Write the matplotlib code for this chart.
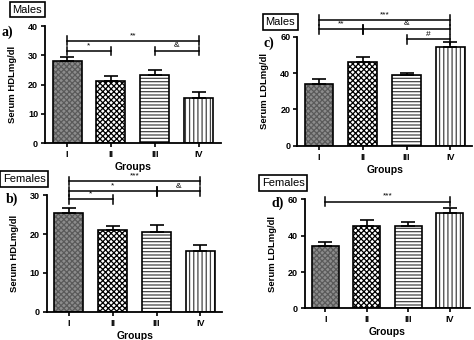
import matplotlib
matplotlib.use("Agg")
import matplotlib.pyplot as plt

plt.rcParams['font.family'] = ['Liberation Sans', 'DejaVu Sans']
plt.rcParams['hatch.linewidth'] = 0.9

groups = ['I', 'II', 'III', 'IV']

hdl_males = [28.0, 21.3, 23.2, 15.6]
hdl_males_err = [1.5, 1.5, 1.7, 1.9]
hdl_females = [25.4, 21.0, 20.6, 15.6]
hdl_females_err = [1.4, 1.1, 1.7, 1.5]
ldl_males = [34.0, 46.1, 38.8, 54.5]
ldl_males_err = [2.6, 2.6, 1.4, 2.4]
ldl_females = [34.5, 45.3, 45.5, 52.3]
ldl_females_err = [2.0, 3.1, 2.2, 2.7]

# (from group, to group, height, label)
sig_a = [(0, 3, 35.0, '**'), (0, 1, 31.5, '*'), (2, 3, 31.5, '&')]
sig_b = [(0, 3, 33.7, '***'), (0, 2, 31.0, '*'), (2, 3, 31.0, '&'), (0, 1, 28.9, '*')]
sig_c = [(0, 3, 69.2, '***'), (0, 1, 64.2, '**'), (1, 3, 64.2, '&'), (2, 3, 58.5, '#')]
sig_d = [(0, 3, 58.7, '***')]

# fill, hatch colour, hatch for each group
styles = [('#8c8c8c', '#5a5a5a', 'xxxxxx'),
          ('white', 'black', 'xxxxxx'),
          ('white', '#444444', '-----'),
          ('white', '#444444', '||||')]

fig = plt.figure(figsize=(4.74, 3.40), dpi=100)


def panel(rect, vals, errs, ymax, yticks, ylabel, sigs, tick_h):
    ax = fig.add_axes(rect)
    x = range(len(vals))
    for i, v in enumerate(vals):
        fc, hc, h = styles[i]
        ax.bar(i, v, width=0.66, color=fc, edgecolor=hc, hatch=h, linewidth=0, zorder=2)
        ax.bar(i, v, width=0.66, fill=False, edgecolor='black', linewidth=1.2, zorder=3)
    ax.errorbar(list(x), vals, yerr=[[0] * len(vals), errs], fmt='none', ecolor='black',
                elinewidth=1.2, capsize=5, capthick=1.2, zorder=4)
    for i, j, y, lab in sigs:
        ax.plot([i, j], [y, y], color='black', lw=1.1, clip_on=False, zorder=5)
        for e in (i, j):
            ax.plot([e, e], [y - tick_h, y + tick_h], color='black', lw=1.1,
                    clip_on=False, zorder=5)
        ax.text((i + j) / 2, y + tick_h * 0.4, lab, ha='center', va='bottom',
                fontsize=6, clip_on=False)
    ax.set_xlim(-0.5, 3.5)
    ax.set_ylim(0, ymax)
    ax.set_yticks(yticks)
    ax.set_xticks(list(x))
    ax.set_xticklabels(groups, fontweight='bold')
    for lab in ax.get_yticklabels():
        lab.set_fontweight('bold')
    ax.tick_params(labelsize=6.5, width=1.2, length=3, pad=2)
    for s in ('top', 'right'):
        ax.spines[s].set_visible(False)
    for s in ('left', 'bottom'):
        ax.spines[s].set_linewidth(1.3)
    ax.set_xlabel('Groups', fontsize=7.5, fontweight='bold', labelpad=2)
    ax.set_ylabel(ylabel, fontsize=6.8, fontweight='bold', labelpad=8)
    return ax


ax_a = panel([0.095, 0.579, 0.371, 0.344], hdl_males, hdl_males_err, 40,
             [0, 10, 20, 30, 40], 'Serum HDLmg/dl', sig_a, 1.5)
ax_b = panel([0.099, 0.083, 0.370, 0.343], hdl_females, hdl_females_err, 30,
             [0, 10, 20, 30], 'Serum HDLmg/dl', sig_b, 1.1)
ax_c = panel([0.627, 0.571, 0.369, 0.321], ldl_males, ldl_males_err, 60,
             [0, 20, 40, 60], 'Serum LDLmg/dl', sig_c, 2.5)
ax_d = panel([0.643, 0.093, 0.349, 0.321], ldl_females, ldl_females_err, 60,
             [0, 20, 40, 60], 'Serum LDLmg/dl', sig_d, 2.5)

box = dict(boxstyle='square,pad=0.25', fc='white', ec='black', lw=1.2)
fig.text(0.026, 0.972, 'Males', fontsize=8, va='center', ha='left', bbox=box)
fig.text(0.560, 0.935, 'Males', fontsize=8, va='center', ha='left', bbox=box)
fig.text(0.006, 0.473, 'Females', fontsize=8, va='center', ha='left', bbox=box)
fig.text(0.552, 0.462, 'Females', fontsize=8, va='center', ha='left', bbox=box)

for xx, yy, t in [(0.004, 0.905, 'a)'), (0.556, 0.873, 'c)'),
                  (0.012, 0.415, 'b)'), (0.572, 0.403, 'd)')]:
    fig.text(xx, yy, t, fontsize=10, fontweight='bold', family='Liberation Serif',
             va='center', ha='left')

fig.savefig('out.png', dpi=100)
